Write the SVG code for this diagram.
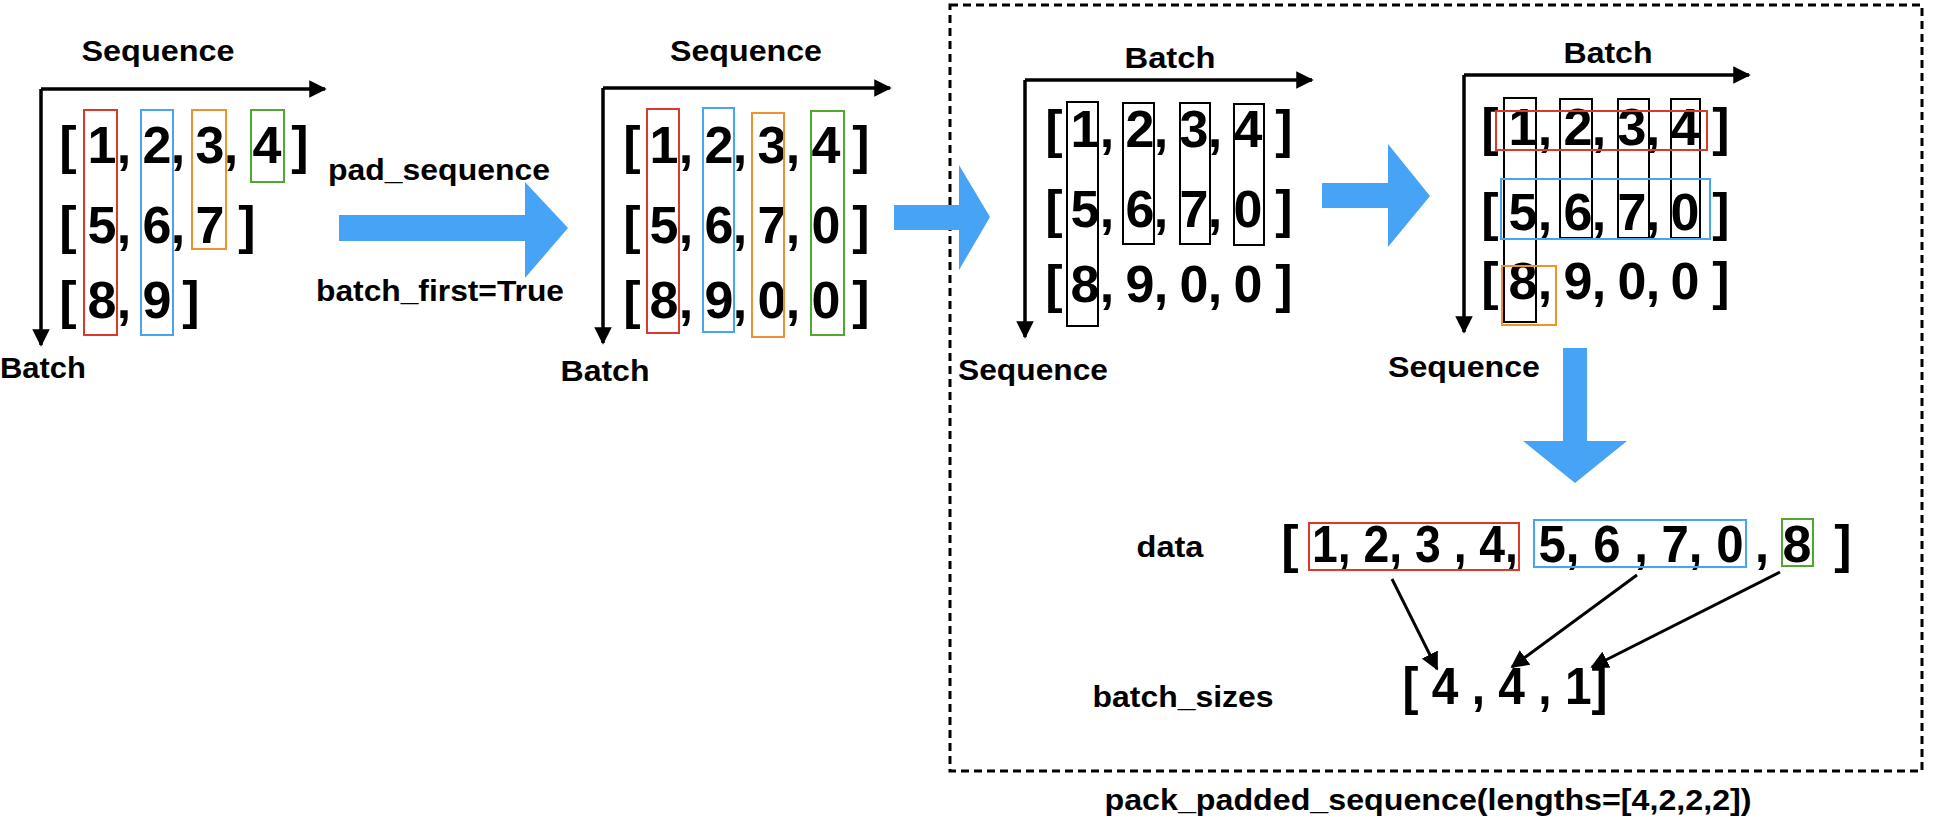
<svg xmlns="http://www.w3.org/2000/svg" width="1936" height="824" viewBox="0 0 1936 824">
<style>
text{font-family:"Liberation Sans",Arial,sans-serif;font-weight:bold;fill:#000}
.d{font-size:52px;text-anchor:middle}
.l{font-size:29px;text-anchor:middle}
.ax{stroke:#000;stroke-width:3.5;fill:none}
.bx{fill:none;stroke-width:2}
.r{stroke:#d93a2b}.b{stroke:#4aa3f0}.o{stroke:#f0922b}.g{stroke:#4fa832}.k{stroke:#000}
.blue{fill:#46a3f5}
</style>
<defs>
<marker id="ah" viewBox="0 0 10 10" refX="9" refY="5" markerWidth="5" markerHeight="5" orient="auto" markerUnits="strokeWidth"><path d="M0,0L10,5L0,10z" fill="#000"/></marker>
<marker id="ah2" viewBox="0 0 10 10" refX="9" refY="5" markerWidth="6" markerHeight="6" orient="auto" markerUnits="strokeWidth"><path d="M0,0L10,5L0,10z" fill="#000"/></marker>
</defs>
<g id="frame"><rect x="950" y="5" width="972" height="766" fill="none" stroke="#000" stroke-width="3" stroke-dasharray="8 5"/></g>

<g id="panel1">
<path class="ax" d="M41,89H325" marker-end="url(#ah)"/>
<path class="ax" d="M41,89V345" marker-end="url(#ah)"/>
<text class="l" x="158" y="61" textLength="153" lengthAdjust="spacingAndGlyphs">Sequence</text>
<text class="l" x="43" y="378" textLength="86" lengthAdjust="spacingAndGlyphs">Batch</text>
<text class="d" x="68" y="163">[</text><text class="d" x="102" y="163">1</text><text class="d" x="124" y="163">,</text><text class="d" x="157" y="163">2</text><text class="d" x="178" y="163">,</text><text class="d" x="210" y="163">3</text><text class="d" x="231" y="163">,</text><text class="d" x="267" y="163">4</text><text class="d" x="300" y="163">]</text>
<text class="d" x="68" y="243">[</text><text class="d" x="102" y="243">5</text><text class="d" x="124" y="243">,</text><text class="d" x="157" y="243">6</text><text class="d" x="178" y="243">,</text><text class="d" x="210" y="243">7</text><text class="d" x="247" y="243">]</text>
<text class="d" x="68" y="318">[</text><text class="d" x="102" y="318">8</text><text class="d" x="124" y="318">,</text><text class="d" x="157" y="318">9</text><text class="d" x="191" y="318">]</text>
<rect class="bx r" x="84" y="110" width="33" height="225"/>
<rect class="bx b" x="141" y="110" width="32" height="225"/>
<rect class="bx o" x="192" y="110" width="34" height="139"/>
<rect class="bx g" x="251" y="110" width="33" height="72"/>
</g>

<g id="arrow1">
<path class="blue" d="M339,215H525V182L568,228L525,278V241H339z"/>
<text class="l" x="439" y="180" textLength="222" lengthAdjust="spacingAndGlyphs">pad_sequence</text>
<text class="l" x="440" y="301" textLength="248" lengthAdjust="spacingAndGlyphs">batch_first=True</text>
</g>

<g id="panel2">
<path class="ax" d="M603,88H890" marker-end="url(#ah)"/>
<path class="ax" d="M603,88V343" marker-end="url(#ah)"/>
<text class="l" x="746" y="61" textLength="152" lengthAdjust="spacingAndGlyphs">Sequence</text>
<text class="l" x="605" y="381" textLength="89" lengthAdjust="spacingAndGlyphs">Batch</text>
<text class="d" x="632" y="163">[</text><text class="d" x="664" y="163">1</text><text class="d" x="686" y="163">,</text><text class="d" x="719" y="163">2</text><text class="d" x="740" y="163">,</text><text class="d" x="772" y="163">3</text><text class="d" x="793" y="163">,</text><text class="d" x="826" y="163">4</text><text class="d" x="861" y="163">]</text>
<text class="d" x="632" y="243">[</text><text class="d" x="664" y="243">5</text><text class="d" x="686" y="243">,</text><text class="d" x="719" y="243">6</text><text class="d" x="740" y="243">,</text><text class="d" x="772" y="243">7</text><text class="d" x="793" y="243">,</text><text class="d" x="826" y="243">0</text><text class="d" x="861" y="243">]</text>
<text class="d" x="632" y="318">[</text><text class="d" x="664" y="318">8</text><text class="d" x="686" y="318">,</text><text class="d" x="719" y="318">9</text><text class="d" x="740" y="318">,</text><text class="d" x="772" y="318">0</text><text class="d" x="793" y="318">,</text><text class="d" x="826" y="318">0</text><text class="d" x="861" y="318">]</text>
<rect class="bx r" x="647" y="109" width="32" height="224"/>
<rect class="bx b" x="703" y="108" width="31" height="224"/>
<rect class="bx o" x="752" y="113" width="32" height="224"/>
<rect class="bx g" x="811" y="111" width="33" height="224"/>
</g>

<g id="arrow2"><path class="blue" d="M894,205H959V165L990,217L959,270V230H894z"/></g>

<g id="panel3">
<path class="ax" d="M1025,80H1312" marker-end="url(#ah)"/>
<path class="ax" d="M1025,80V337" marker-end="url(#ah)"/>
<text class="l" x="1170" y="68" textLength="91" lengthAdjust="spacingAndGlyphs">Batch</text>
<text class="l" x="1033" y="380" textLength="150" lengthAdjust="spacingAndGlyphs">Sequence</text>
<text class="d" x="1054" y="147">[</text><text class="d" x="1085" y="147">1</text><text class="d" x="1107" y="147">,</text><text class="d" x="1140" y="147">2</text><text class="d" x="1161" y="147">,</text><text class="d" x="1194" y="147">3</text><text class="d" x="1215" y="147">,</text><text class="d" x="1248" y="147">4</text><text class="d" x="1284" y="147">]</text>
<text class="d" x="1054" y="227">[</text><text class="d" x="1085" y="227">5</text><text class="d" x="1107" y="227">,</text><text class="d" x="1140" y="227">6</text><text class="d" x="1161" y="227">,</text><text class="d" x="1194" y="227">7</text><text class="d" x="1215" y="227">,</text><text class="d" x="1248" y="227">0</text><text class="d" x="1284" y="227">]</text>
<text class="d" x="1054" y="302">[</text><text class="d" x="1085" y="302">8</text><text class="d" x="1107" y="302">,</text><text class="d" x="1140" y="302">9</text><text class="d" x="1161" y="302">,</text><text class="d" x="1194" y="302">0</text><text class="d" x="1215" y="302">,</text><text class="d" x="1248" y="302">0</text><text class="d" x="1284" y="302">]</text>
<rect class="bx k" x="1067" y="102" width="31" height="224"/>
<rect class="bx k" x="1123" y="103" width="31" height="141"/>
<rect class="bx k" x="1180" y="103" width="30" height="141"/>
<rect class="bx k" x="1234" y="104" width="30" height="141"/>
</g>

<g id="arrow3"><path class="blue" d="M1322,183H1388V144L1430,196L1388,247V208H1322z"/></g>

<g id="panel4">
<path class="ax" d="M1464,75H1749" marker-end="url(#ah)"/>
<path class="ax" d="M1464,75V332" marker-end="url(#ah)"/>
<text class="l" x="1608" y="63" textLength="89" lengthAdjust="spacingAndGlyphs">Batch</text>
<text class="l" x="1464" y="377" textLength="152" lengthAdjust="spacingAndGlyphs">Sequence</text>
<text class="d" x="1490" y="145">[</text><text class="d" x="1523" y="145">1</text><text class="d" x="1545" y="145">,</text><text class="d" x="1578" y="145">2</text><text class="d" x="1599" y="145">,</text><text class="d" x="1632" y="145">3</text><text class="d" x="1653" y="145">,</text><text class="d" x="1685" y="145">4</text><text class="d" x="1721" y="145">]</text>
<text class="d" x="1490" y="230">[</text><text class="d" x="1523" y="230">5</text><text class="d" x="1545" y="230">,</text><text class="d" x="1578" y="230">6</text><text class="d" x="1599" y="230">,</text><text class="d" x="1632" y="230">7</text><text class="d" x="1653" y="230">,</text><text class="d" x="1685" y="230">0</text><text class="d" x="1721" y="230">]</text>
<text class="d" x="1490" y="299">[</text><text class="d" x="1523" y="299">8</text><text class="d" x="1545" y="299">,</text><text class="d" x="1578" y="299">9</text><text class="d" x="1599" y="299">,</text><text class="d" x="1632" y="299">0</text><text class="d" x="1653" y="299">,</text><text class="d" x="1685" y="299">0</text><text class="d" x="1721" y="299">]</text>
<rect class="bx k" x="1504" y="98" width="32" height="224"/>
<rect class="bx k" x="1560" y="99" width="32" height="139"/>
<rect class="bx k" x="1618" y="99" width="31" height="139"/>
<rect class="bx k" x="1671" y="99" width="29" height="139"/>
<rect class="bx r" x="1496" y="111" width="211" height="39"/>
<rect class="bx b" x="1501" y="179" width="209" height="60"/>
<rect class="bx o" x="1502" y="266" width="54" height="59"/>
</g>

<g id="arrow4"><path class="blue" d="M1563,348H1587V441H1627L1575,483L1523,441H1563z"/></g>

<g id="packed">
<text class="l" x="1170" y="557" textLength="67" lengthAdjust="spacingAndGlyphs">data</text>
<text class="d" x="1290" y="562">[</text>
<text class="d" x="1415" y="562" textLength="206" lengthAdjust="spacingAndGlyphs">1, 2, 3 , 4,</text>
<text class="d" x="1641" y="562" textLength="205" lengthAdjust="spacingAndGlyphs">5, 6 , 7, 0</text>
<text class="d" x="1762" y="562">,</text>
<text class="d" x="1797" y="562">8</text>
<text class="d" x="1843" y="562">]</text>
<rect class="bx r" x="1309" y="523" width="210" height="47"/>
<rect class="bx b" x="1534" y="520" width="212" height="47"/>
<rect class="bx g" x="1782" y="519" width="31" height="47"/>
<text class="l" x="1183" y="707" textLength="181" lengthAdjust="spacingAndGlyphs">batch_sizes</text>
<text class="d" x="1505" y="704" textLength="205" lengthAdjust="spacingAndGlyphs">[ 4 , 4 , 1]</text>
<text class="l" x="1428" y="810" textLength="647" lengthAdjust="spacingAndGlyphs">pack_padded_sequence(lengths=[4,2,2,2])</text>
</g>

<g id="connectors" stroke="#000" stroke-width="3">
<line x1="1392" y1="579" x2="1437" y2="669" marker-end="url(#ah2)"/>
<line x1="1637" y1="575" x2="1512" y2="667" marker-end="url(#ah2)"/>
<line x1="1780" y1="572" x2="1592" y2="667" marker-end="url(#ah2)"/>
</g>
</svg>
